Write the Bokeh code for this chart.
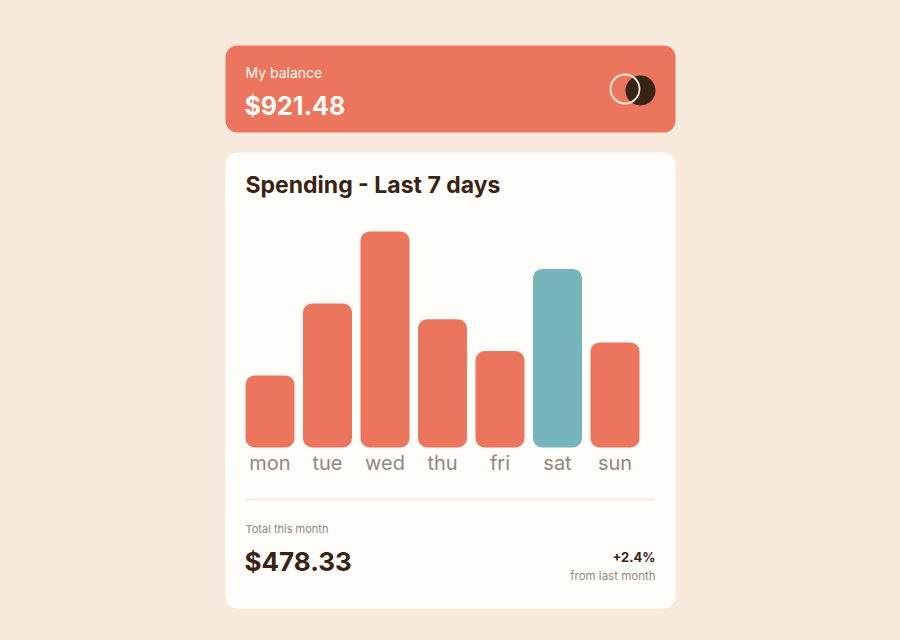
from bokeh.plotting import figure
from bokeh.models import Range1d
from bokeh.core.properties import value
from bokeh.embed import file_html
from bokeh.resources import INLINE

# ---- data ----
days = ["mon", "tue", "wed", "thu", "fri", "sat", "sun"]
amounts = [17.45, 34.91, 52.36, 31.07, 23.39, 43.28, 25.48]
highlight_day = "sat"
balance_label = "My balance"
balance_text = "$921.48"
title_text = "Spending - Last 7 days"
total_label = "Total this month"
total_text = "$478.33"
change_text = "+2.4%"
change_label = "from last month"

# ---- style ----
BG = "#f8e9dd"
RED = "#ec755d"
CYAN = "#76b5bc"
DARK = "#382314"
MUTED = "#93867b"
CARD = "#fffdfa"
FONT = "Inter"

# page offset of the canvas (page renders with no margin)
W, H, M = 884, 624, 0
p = figure(width=W, height=H, x_range=Range1d(M, M + W), y_range=Range1d(M + H, M),
           output_backend="svg", toolbar_location=None, min_border=0,
           x_axis_location=None, y_axis_location=None)
p.grid.visible = False
p.background_fill_color = BG
p.border_fill_color = BG
p.outline_line_color = None

# cards
p.quad(left=[225, 225], right=[675, 675], top=[45, 152], bottom=[132, 608],
       fill_color=[RED, CARD], line_color=None, border_radius=12)

# icon
p.circle(x=[640], y=[90], radius=15, fill_color=DARK, line_color=None)
p.circle(x=[624.5], y=[88.5], radius=14.5, fill_color=None, line_color=BG, line_width=1.8)

# balance texts
p.text(x=[245], y=[72], text=[balance_label], text_font=value(FONT), text_font_size="14px",
       text_color="#fffbf6", text_baseline="middle")
p.text(x=[244], y=[105], text=[balance_text], text_font=value(FONT), text_font_size="25px",
       text_font_style="bold", text_color="#fffbf6", text_baseline="middle")

# title
p.text(x=[245], y=[184], text=[title_text], text_font=value(FONT), text_font_size="23px",
       text_font_style="bold", text_color=DARK, text_baseline="middle")

# bars via extra ranges
bar_x0, bar_pitch, bar_w = 269.5, 57.5, 49
bar_base, bar_max_h = 447, 216
idx = list(range(len(days)))
scale = bar_max_h / max(amounts)
p.extra_x_ranges = {"bx": Range1d((M - bar_x0) / bar_pitch, (M + W - bar_x0) / bar_pitch)}
p.extra_y_ranges = {"by": Range1d((bar_base - (M + H)) / scale, (bar_base - M) / scale)}
colors = [CYAN if d == highlight_day else RED for d in days]
p.vbar(x=idx, top=amounts, bottom=0, width=bar_w / bar_pitch, fill_color=colors,
       line_color=None, border_radius=9, x_range_name="bx", y_range_name="by")
p.text(x=idx, y=[462] * len(days), text=days, x_range_name="bx", text_align="center",
       text_baseline="middle", text_font=value(FONT), text_font_size="20px", text_color=MUTED)

# divider
p.segment(x0=[245], y0=[499], x1=[655], y1=[499], line_color=BG, line_width=2)

# totals
p.text(x=[245], y=[528], text=[total_label], text_font=value(FONT), text_font_size="11px",
       text_color=MUTED, text_baseline="middle")
p.text(x=[244], y=[561], text=[total_text], text_font=value(FONT), text_font_size="26px",
       text_font_style="bold", text_color=DARK, text_baseline="middle")
p.text(x=[655], y=[556], text=[change_text], text_font=value(FONT), text_font_size="13px",
       text_font_style="bold", text_color=DARK, text_baseline="middle", text_align="right")
p.text(x=[655], y=[575], text=[change_label], text_font=value(FONT), text_font_size="11.5px",
       text_color=MUTED, text_baseline="middle", text_align="right")

try:
    from bokeh.core.templates import get_env
    tmpl = get_env().from_string(
        '{% extends "file.html" %}{% block preamble %}<style>html, body {background:#f8e9dd;}</style>{% endblock %}')
    html = file_html(p, INLINE, template=tmpl)
except Exception:
    html = file_html(p, INLINE)
open("out.html", "w").write(html)
